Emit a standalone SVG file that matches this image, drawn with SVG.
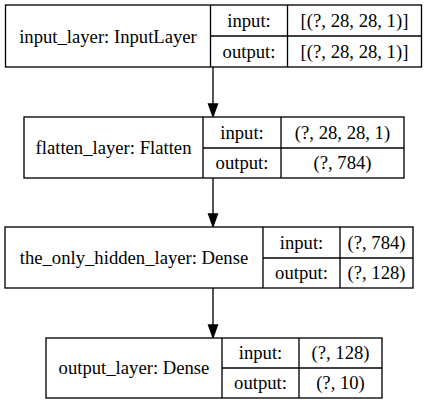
<svg xmlns="http://www.w3.org/2000/svg" width="428" height="405" viewBox="0 0 428 405">
<style>
.b{fill:#fff;stroke:#000;stroke-width:1.33}
.l{stroke:#000;stroke-width:1.33;fill:none}
text{font-family:"Liberation Serif","Times New Roman",serif;font-size:18.67px;fill:#000;text-anchor:middle}
.e{stroke:#000;stroke-width:1.33;fill:none}
.h{fill:#000;stroke:#000;stroke-width:1.33}
</style>
<rect width="428" height="405" fill="#fff"/>
<g id="edges">
<line class="e" x1="213" y1="67" x2="213" y2="104"/>
<polygon class="h" points="208.5,104 217.5,104 213,116.5"/>
<line class="e" x1="213" y1="178" x2="213" y2="214"/>
<polygon class="h" points="208.5,214 217.5,214 213,226.5"/>
<line class="e" x1="213" y1="288" x2="213" y2="325"/>
<polygon class="h" points="208.5,325 217.5,325 213,337.5"/>
</g>
<g id="input_layer">
<rect class="b" x="5.5" y="5" width="416" height="62"/>
<line class="l" x1="210.5" y1="5" x2="210.5" y2="67"/>
<line class="l" x1="287.5" y1="5" x2="287.5" y2="67"/>
<line class="l" x1="210.5" y1="36" x2="421.5" y2="36"/>
<text x="108" y="42.5">input_layer: InputLayer</text>
<text x="249" y="27">input:</text>
<text x="249" y="58">output:</text>
<text x="354.5" y="27">[(?, 28, 28, 1)]</text>
<text x="354.5" y="58">[(?, 28, 28, 1)]</text>
</g>
<g id="flatten_layer">
<rect class="b" x="24" y="117" width="380" height="61"/>
<line class="l" x1="203" y1="117" x2="203" y2="178"/>
<line class="l" x1="281" y1="117" x2="281" y2="178"/>
<line class="l" x1="203" y1="148" x2="404" y2="148"/>
<text x="113.5" y="154">flatten_layer: Flatten</text>
<text x="242" y="138.5">input:</text>
<text x="242" y="169">output:</text>
<text x="342.5" y="138.5">(?, 28, 28, 1)</text>
<text x="342.5" y="169">(?, 784)</text>
</g>
<g id="the_only_hidden_layer">
<rect class="b" x="5" y="227" width="408" height="61"/>
<line class="l" x1="263" y1="227" x2="263" y2="288"/>
<line class="l" x1="340" y1="227" x2="340" y2="288"/>
<line class="l" x1="263" y1="258" x2="413" y2="258"/>
<text x="134" y="264">the_only_hidden_layer: Dense</text>
<text x="301.5" y="248.5">input:</text>
<text x="301.5" y="279">output:</text>
<text x="376.5" y="248.5">(?, 784)</text>
<text x="376.5" y="279">(?, 128)</text>
</g>
<g id="output_layer">
<rect class="b" x="46" y="338" width="336" height="60"/>
<line class="l" x1="222" y1="338" x2="222" y2="398"/>
<line class="l" x1="299" y1="338" x2="299" y2="398"/>
<line class="l" x1="222" y1="368" x2="382" y2="368"/>
<text x="134" y="374">output_layer: Dense</text>
<text x="260.5" y="359">input:</text>
<text x="260.5" y="389">output:</text>
<text x="340.5" y="359">(?, 128)</text>
<text x="340.5" y="389">(?, 10)</text>
</g>
</svg>
